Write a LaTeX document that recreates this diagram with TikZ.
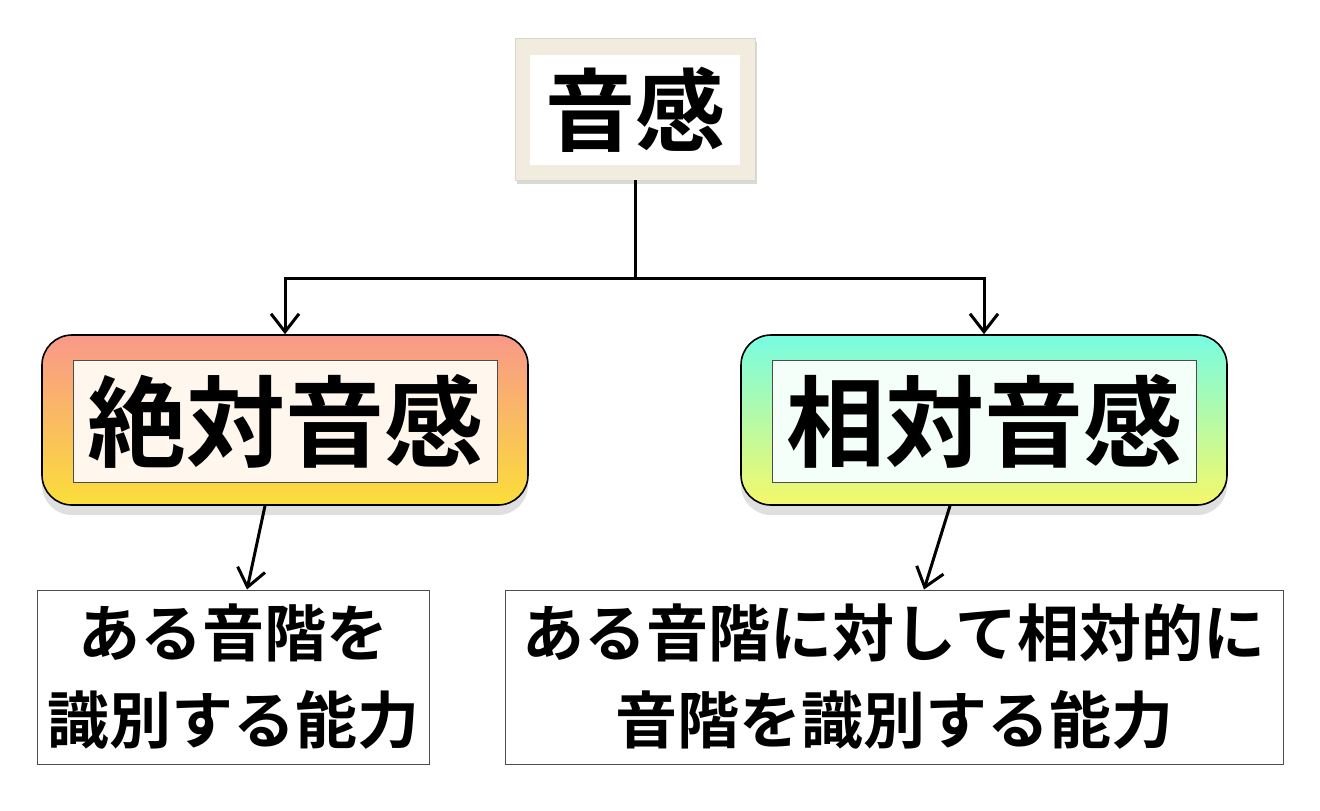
\documentclass[tikz,border=0pt]{standalone}
\usepackage{fontspec}
\newfontfamily\jp[BoldFont={Noto Sans CJK JP Bold}]{Noto Sans CJK JP}
\usetikzlibrary{arrows.meta, positioning, calc, shadows}
\definecolor{paperCream}{HTML}{F1ECDD}
\definecolor{absTop}{HTML}{F9988A}
\definecolor{absBottom}{HTML}{FBDE3A}
\definecolor{relTop}{HTML}{78FCE2}
\definecolor{relBottom}{HTML}{F5F86A}
\definecolor{innerWarm}{HTML}{FFF7EE}
\definecolor{innerCool}{HTML}{F3FFF8}
\tikzset{
    % Common
    arrowDown/.style={-{Straight Barb[length=9pt,width=14pt]}, line width=1.5pt},
    % Boxes
    paperBox/.style={rectangle, fill=paperCream, draw=paperCream!80!gray, minimum width=120pt, minimum height=71pt, drop shadow={opacity=0.3, shadow xshift=1pt, shadow yshift=-2pt}},
    paperInner/.style={rectangle, fill=white, minimum width=105pt, minimum height=55pt, font=\jp\bfseries\fontsize{45}{50}\selectfont},
    kindBox/.style={rectangle, rounded corners=15pt, draw=black, line width=0.8pt, minimum width=243pt, minimum height=85pt, drop shadow={opacity=0.25, shadow xshift=0pt, shadow yshift=-5pt}},
    kindInner/.style={rectangle, draw=black!70, line width=0.5pt, minimum width=212pt, minimum height=61pt, inner sep=0pt, font=\jp\bfseries\fontsize{49.5}{55}\selectfont},
    noteBox/.style={rectangle, draw=black!70, line width=0.5pt, fill=white, minimum height=87pt, inner sep=2pt, align=center, font=\jp\bfseries\fontsize{31}{43.5}\selectfont}
}
\begin{document}
\begin{tikzpicture}[x=0.5pt, y=-0.5pt]
    \useasboundingbox (0,0) rectangle (1320,810);
    % Top node
    \node[paperBox] (top) at (635,109) {};
    \node[paperInner] (topText) at (635,110) {音感};

    % Two kinds
    \node[kindBox, top color=absTop, bottom color=absBottom] (absolute) at (285,420) {};
    \node[kindInner, fill=innerWarm] (absText) at (285,421) {絶対音感};
    \node[kindBox, top color=relTop, bottom color=relBottom] (relative) at (984,420) {};
    \node[kindInner, fill=innerCool] (relText) at (984,421) {相対音感};

    % Descriptions
    \node[noteBox, minimum width=196pt] (absNote) at (233,677) {ある音階を\\識別する能力};
    \node[noteBox, minimum width=389pt] (relNote) at (894,677) {ある音階に対して相対的に\\音階を識別する能力};

    % Connectors
    \coordinate (split) at (635,278);
    \draw[line width=1.5pt] (top.south) -- (split);
    \draw[arrowDown] (split) -| (absolute.north);
    \draw[arrowDown] (split) -| (relative.north);
    \draw[arrowDown] ([xshift=-10pt]absolute.south) -- ([xshift=7pt]absNote.north);
    \draw[arrowDown] ([xshift=-17pt]relative.south) -- ([xshift=15pt]relNote.north);
\end{tikzpicture}
\end{document}
